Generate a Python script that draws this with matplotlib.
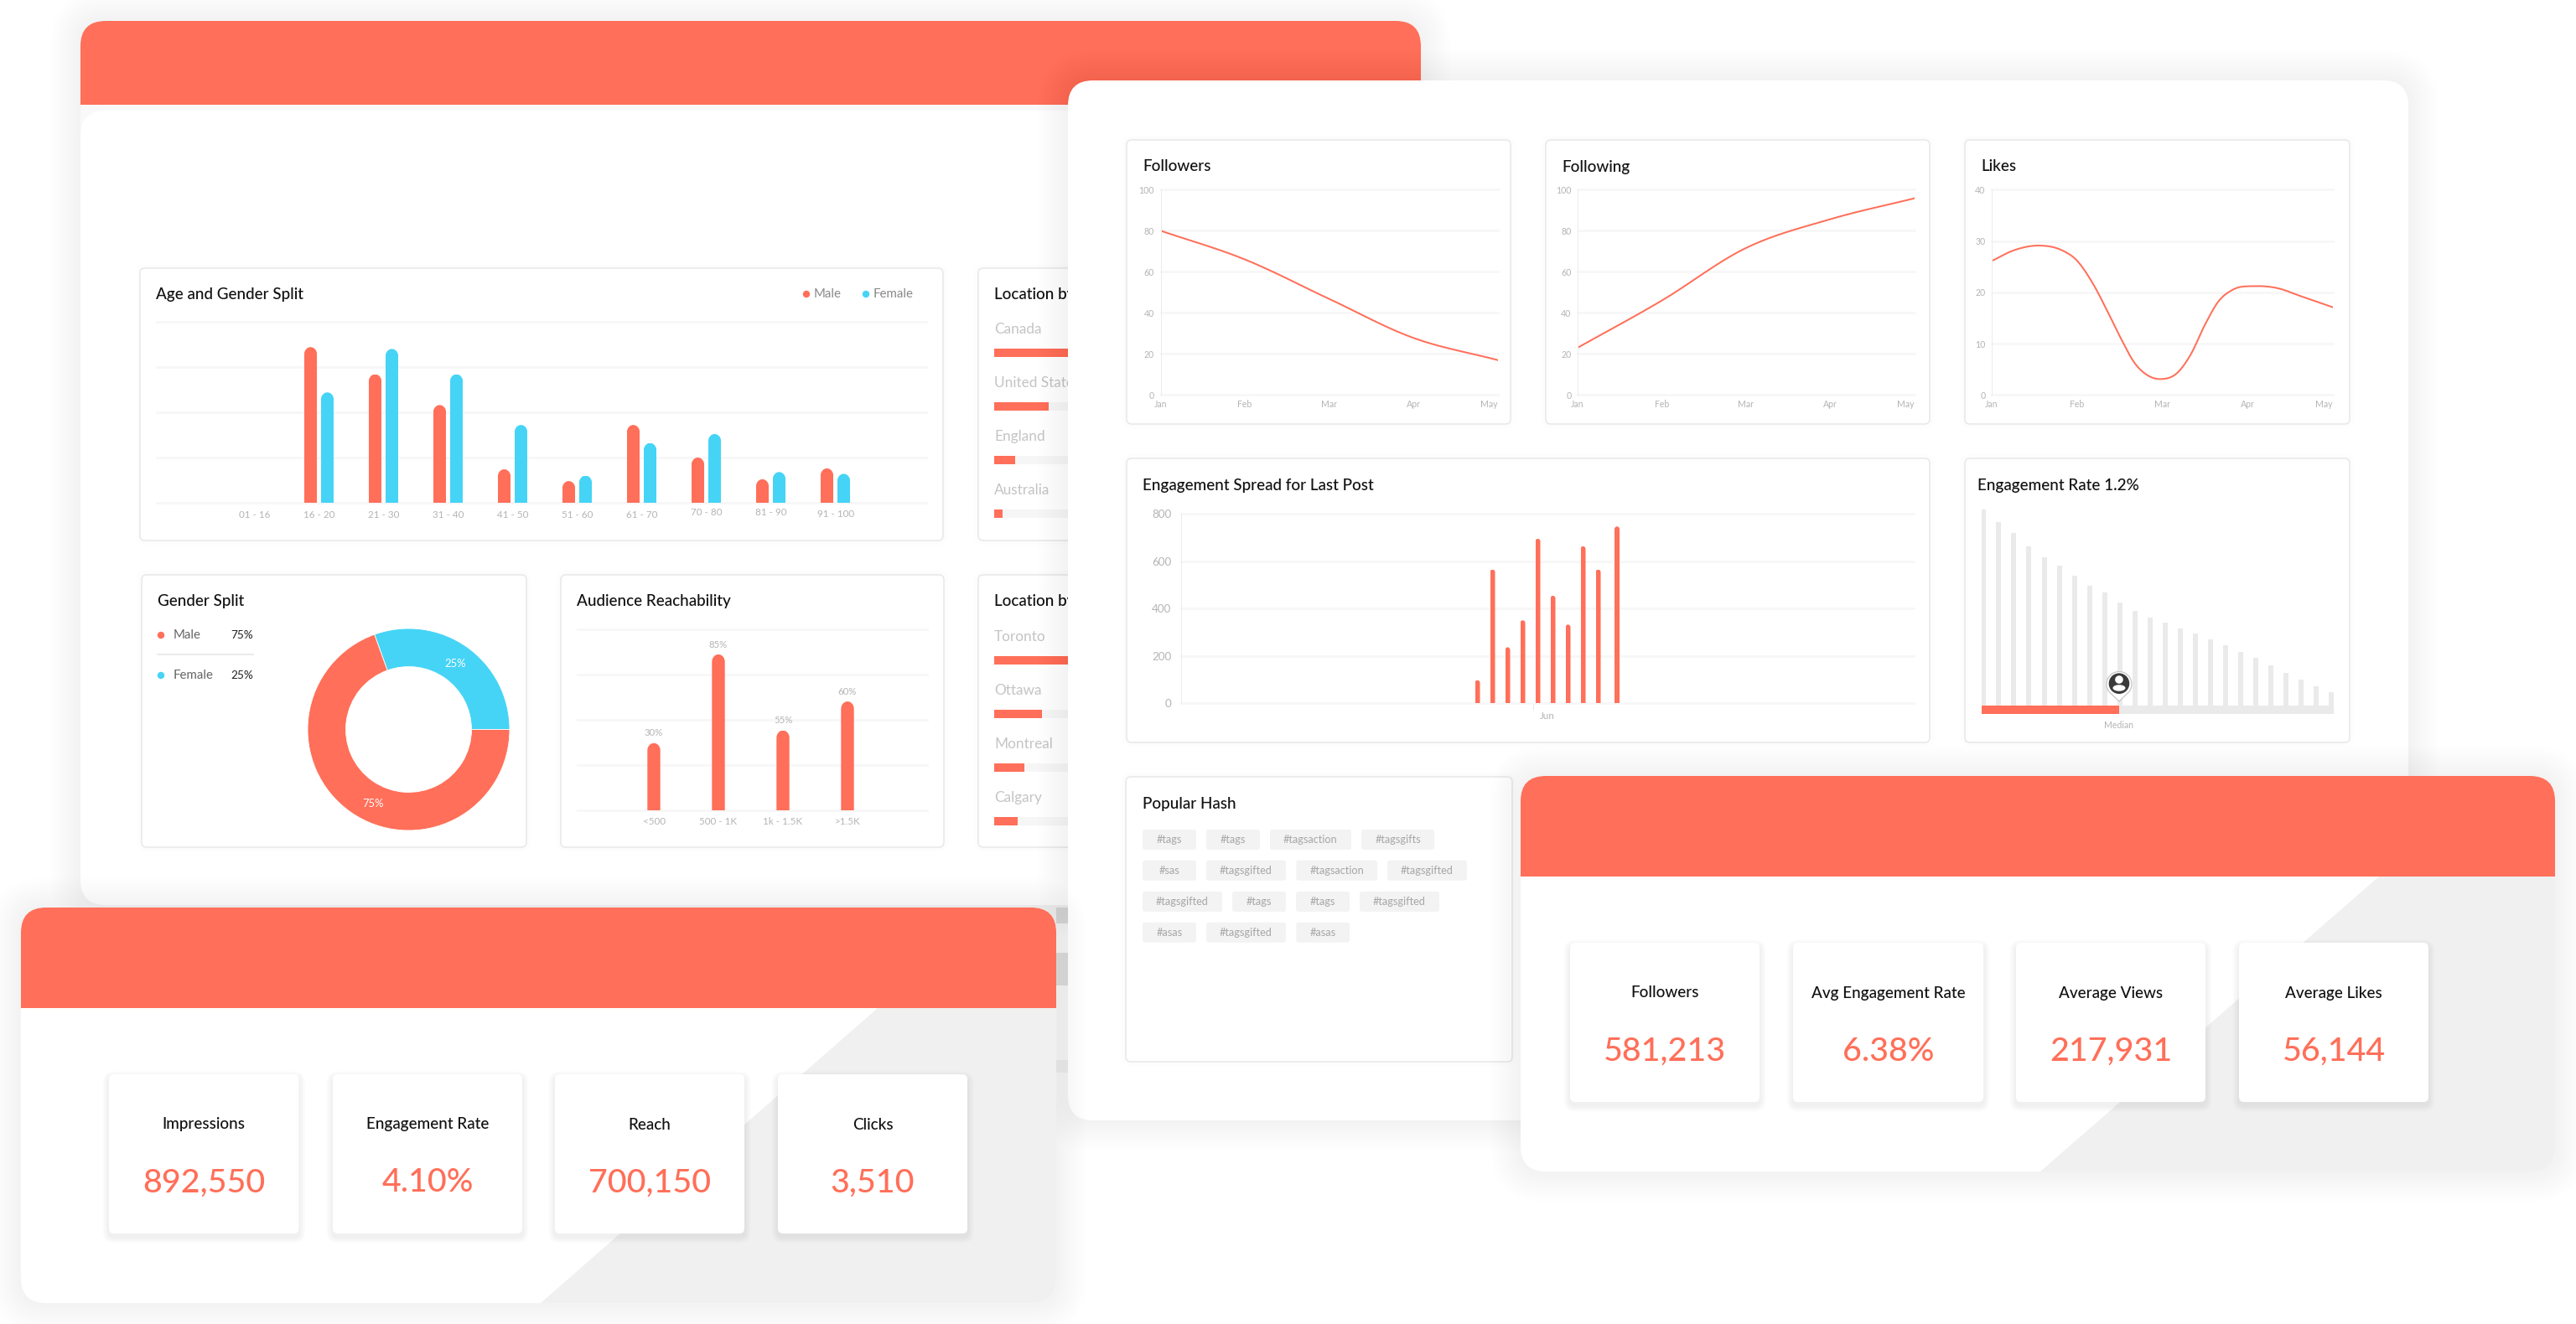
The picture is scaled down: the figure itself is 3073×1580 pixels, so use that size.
import numpy as np
import matplotlib
matplotlib.use("Agg")
import matplotlib.pyplot as plt
from matplotlib.patches import FancyBboxPatch, Rectangle, Polygon, Circle, Ellipse
from matplotlib.path import Path

# ---------- data ----------
age_groups = ["01 - 16", "16 - 20", "21 - 30", "31 - 40", "41 - 50", "51 - 60", "61 - 70", "70 - 80", "81 - 90", "91 - 100"]
male_share = [0, 86, 71, 54, 18.5, 12, 43, 25, 13, 19]
female_share = [0, 61, 85, 71, 43, 15, 33, 38, 17, 16]

donut_names = ["Female", "Male"]
donut_values = [30.5, 69.5]
donut_labels = ["25%", "75%"]

reach_groups = ["<500", "500 - 1K", "1k - 1.5K", ">1.5K"]
reach_values = [37, 86, 44, 60]
reach_labels = ["30%", "85%", "55%", "60%"]

countries = ["Canada", "United States", "England", "Australia"]
country_values = [32, 17, 6.5, 2.6]
cities = ["Toronto", "Ottawa", "Montreal", "Calgary"]
city_values = [30, 15, 9.5, 7.4]

months = ["Jan", "Feb", "Mar", "Apr", "May"]
followers_x = [0, 1, 2, 3, 4]
followers_y = [80, 66, 46.8, 27.8, 17]
following_x = [0, 1, 2, 3, 4]
following_y = [23, 46, 71.6, 85.6, 95.8]
likes_x = [0, .263, .559, .822, .987, 1.184, 1.349, 1.513, 1.678, 1.842, 2, 2.171, 2.336, 2.5, 2.664, 2.829, 3.092, 3.355, 3.618, 4]
likes_y = [26.1, 28.2, 29.1, 28.2, 26.4, 21.8, 16.6, 11.1, 6.2, 3.7, 3.1, 4.2, 7.9, 13.6, 18.3, 20.5, 21.2, 20.8, 19.3, 17.1]

spread_x = [0, 1, 2, 3, 4, 5, 6, 7, 8, 9.25]
spread_y = [97, 565, 236, 350, 695, 454, 332, 663, 565, 747]

rate_values = [100, 93.6, 88, 81.2, 75.6, 71.3, 66.1, 61, 57.6, 52.4, 48.1, 44.7,
               42.2, 39.2, 36.6, 33.6, 30.6, 27.2, 24.2, 20.4, 16.5, 13.1, 9.7, 6.7]
median_position = 8.96

hash_rows = [["#tags", "#tags", "#tagsaction", "#tagsgifts"],
             ["#sas", "#tagsgifted", "#tagsaction", "#tagsgifted"],
             ["#tagsgifted", "#tags", "#tags", "#tagsgifted"],
             ["#asas", "#tagsgifted", "#asas"]]

left_stats = ["Impressions", "Engagement Rate", "Reach", "Clicks"]
left_values = ["892,550", "4.10%", "700,150", "3,510"]
right_stats = ["Followers", "Avg Engagement Rate", "Average Views", "Average Likes"]
right_values = ["581,213", "6.38%", "217,931", "56,144"]

# ---------- style ----------
W, H = 3073, 1580
RED, BLUE = "#FF6F59", "#45D4F6"
GRID, EDGE, TICK = "#F7F7F7", "#E8E8E8", "#B4B4B4"
TRI = "#F0F0F0"
plt.rcParams["font.family"] = ["Lato", "DejaVu Sans"]
fig = plt.figure(figsize=(W / 100, H / 100), dpi=100, facecolor="white")
PX = 0.72


def layer(z):
    a = fig.add_axes([0, 0, 1, 1], zorder=z)
    a.set_xlim(0, W)
    a.set_ylim(H, 0)
    a.axis("off")
    a.patch.set_alpha(0)
    return a


def rbox(a, x0, y0, x1, y1, r, **kw):
    p = FancyBboxPatch((x0, y0), x1 - x0, y1 - y0,
                       boxstyle=f"round,pad=0,rounding_size={r}", **kw)
    a.add_patch(p)
    return p


def shadow(a, x0, y0, x1, y1, r, n=12, spread=3, alpha=0.0035, dy=0):
    for k in range(n, 0, -1):
        s = k * spread
        rbox(a, x0 - s, y0 - s + dy, x1 + s, y1 + s + dy, r + s, fc="black", ec="none", alpha=alpha)


def card(a, x0, y0, x1, y1):
    shadow(a, x0, y0, x1, y1, 6, n=3, spread=2, alpha=0.004)
    rbox(a, x0, y0, x1, y1, 6, fc="white", ec=EDGE, lw=1.5 * PX)


def chart_ax(x0, y0, x1, y1, z):
    a = fig.add_axes([x0 / W, 1 - y1 / H, (x1 - x0) / W, (y1 - y0) / H], zorder=z)
    a.patch.set_alpha(0)
    for s in a.spines.values():
        s.set_visible(False)
    a.tick_params(length=0, labelsize=8.4, labelcolor=TICK)
    return a


def hgrid(a):
    a.grid(axis="y", color=GRID, lw=3 * PX)
    a.set_axisbelow(True)
    for g in a.get_ygridlines():
        g.set_clip_on(False)


def round_bars(a, x, h, w, color):
    bars = a.bar(x, h, w, color=color, lw=0)
    ppx = a.get_window_extent().height / (a.get_ylim()[1] - a.get_ylim()[0])
    xpx = a.get_window_extent().width / (a.get_xlim()[1] - a.get_xlim()[0])
    cap = (w * xpx / 2) * 1.15 / ppx
    t = np.linspace(0, np.pi, 24)
    for b in bars:
        bx, bw, bh = b.get_x(), b.get_width(), b.get_height()
        if bh <= 0:
            continue
        top = min(cap, bh)
        xs = bx + bw / 2 + bw / 2 * np.cos(t)
        ys = bh - top + top * np.sin(t)
        verts = [(bx + bw, -1e3)] + list(zip(xs, ys)) + [(bx, -1e3), (bx + bw, -1e3)]
        b.set_clip_path(Path(verts, closed=True), a.transData)
    return bars


def smooth(x, y, n=24):
    x, y = np.asarray(x, float), np.asarray(y, float)
    m = np.gradient(y, x)
    xo, yo = [], []
    for i in range(len(x) - 1):
        d = x[i + 1] - x[i]
        t = np.linspace(0, 1, n, endpoint=False)
        yo.append((2 * t**3 - 3 * t**2 + 1) * y[i] + (t**3 - 2 * t**2 + t) * d * m[i]
                  + (-2 * t**3 + 3 * t**2) * y[i + 1] + (t**3 - t**2) * d * m[i + 1])
        xo.append(x[i] + t * d)
    return np.r_[np.concatenate(xo), x[-1]], np.r_[np.concatenate(yo), y[-1]]


TITLE = dict(fontsize=13.6, color="#111111", va="center", ha="left", fontweight="medium")

# ---------- panel A ----------
A = layer(1)
A.add_patch(Rectangle((1260, 1083), 16, 19, fc="#E6E6E6", ec="none"))
A.add_patch(Rectangle((1260, 1137), 16, 39, fc="#E6E6E6", ec="none"))
A.add_patch(Rectangle((1260, 1265), 16, 15, fc="#F5F5F5", ec="none"))
shadow(A, 96, 25, 1695, 1080, 30)
pa = rbox(A, 96, 25, 1695, 1080, 30, fc="#F9F9F9", ec="none")
ra = Rectangle((96, 25), 1600, 100, fc=RED, ec="none")
A.add_patch(ra)
ra.set_clip_path(pa)
rbox(A, 96, 132, 1695, 1080, 30, fc="white", ec="none")

card(A, 167, 320, 1125, 645)
card(A, 169, 686, 628, 1011)
card(A, 669, 686, 1126, 1011)
card(A, 1167, 320, 1625, 645)
card(A, 1167, 686, 1625, 1011)

A.text(186, 351, "Age and Gender Split", **TITLE)
A.text(188, 718, "Gender Split", **TITLE)
A.text(688, 718, "Audience Reachability", **TITLE)
A.text(1186, 351, "Location by Country", **TITLE)
A.text(1186, 718, "Location by City", **TITLE)

A.add_patch(Circle((962, 351), 4.2, fc=RED, ec="none"))
A.text(971, 351, "Male", fontsize=10.8, color="#8A8A8A", va="center")
A.add_patch(Circle((1033, 351), 4.2, fc=BLUE, ec="none"))
A.text(1042, 351, "Female", fontsize=10.8, color="#8A8A8A", va="center")

A.add_patch(Circle((192, 758), 4.2, fc=RED, ec="none"))
A.text(207, 758, "Male", fontsize=10.8, color="#666666", va="center")
A.text(302, 758, "75%", fontsize=9.8, color="#222222", va="center", ha="right")
A.plot([188, 302], [781, 781], color="#E4E4E4", lw=1.5 * PX)
A.add_patch(Circle((192, 806), 4.2, fc=BLUE, ec="none"))
A.text(207, 806, "Female", fontsize=10.8, color="#666666", va="center")
A.text(302, 806, "25%", fontsize=9.8, color="#222222", va="center", ha="right")

# age / gender bars
ax = chart_ax(187, 384, 1105, 600, 2)
ax.set_ylim(0, 100)
ax.set_xlim((187 - 304) / 77, (1105 - 304) / 77)
ax.set_yticks([0, 25, 50, 75, 100])
ax.set_yticklabels([])
idx = np.arange(len(age_groups))
hgrid(ax)
round_bars(ax, idx - 10.5 / 77, male_share, 15.3 / 77, RED)
round_bars(ax, idx + 9.5 / 77, female_share, 15.3 / 77, BLUE)
ax.set_xticks(idx)
ax.set_xticklabels(age_groups)
for t, p in zip(ax.xaxis.get_major_ticks(), [6.5, 6.5, 6.5, 6.5, 6.5, 6.5, 6.5, 4, 4, 5.5]):
    t.set_pad(p)

# donut
ax = chart_ax(367, 750, 608, 991, 2)
ax.pie(donut_values, colors=[BLUE, RED], startangle=0, radius=1,
       wedgeprops=dict(width=0.378, edgecolor="white", linewidth=0.6))
ax.set_xlim(-1, 1)
ax.set_ylim(-1, 1)
ax.text((543 - 487.5) / 120.5, (870.7 - 792) / 120.5, donut_labels[0], color="white", fontsize=9.4, ha="center", va="center")
ax.text((445 - 487.5) / 120.5, (870.7 - 959) / 120.5, donut_labels[1], color="white", fontsize=9.4, ha="center", va="center")

# audience
ax = chart_ax(688.5, 750.7, 1106, 966.7, 2)
ax.set_ylim(0, 100)
ax.set_xlim((688.5 - 780) / 77, (1106 - 780) / 77)
ax.set_yticks([0, 25, 50, 75, 100])
ax.set_yticklabels([])
hgrid(ax)
round_bars(ax, np.arange(4), reach_values, 15.4 / 77, RED)
ax.set_xticks(np.arange(4))
ax.set_xticklabels(reach_groups)
ax.tick_params(axis="x", pad=6)
for i, (v, s) in enumerate(zip(reach_values, reach_labels)):
    ax.annotate(s, (i, v), xytext=(0, 8.5), textcoords="offset points", ha="center", va="center",
                fontsize=8.2, color=TICK)


def location(names, vals, y_first):
    a = chart_ax(1186, y_first - 32, 1566, y_first + 224, 2)
    a.set_xlim(0, 100)
    a.set_ylim(3.5, -0.5)
    a.axis("off")
    pos = np.arange(4)
    a.barh(pos, [100] * 4, 0.156, color="#F6F6F6", lw=0)
    a.barh(pos, vals, 0.156, color=RED, lw=0)
    for i, n in enumerate(names):
        a.text(0, i - 0.44, n, fontsize=12.4, color="#C4C4C4", va="center", ha="left")


location(countries, country_values, 421)
location(cities, city_values, 788)

# ---------- panel B ----------
B = layer(3)
shadow(B, 1274, 96, 2873, 1337, 30)
rbox(B, 1274, 96, 2873, 1337, 30, fc="white", ec="none")
card(B, 1344, 167, 1802, 506)
card(B, 1844, 167, 2302, 506)
card(B, 2344, 167, 2803, 506)
card(B, 1344, 547, 2302, 886)
card(B, 2344, 547, 2803, 886)
card(B, 1343, 927, 1804, 1267)
B.text(1363.5, 199, "Followers", **TITLE)
B.text(1863, 199, "Following", **TITLE)
B.text(2363.5, 199, "Likes", **TITLE)
B.text(1363.5, 579, "Engagement Spread for Last Post", **TITLE)
B.text(2359.5, 579, "Engagement Rate 1.2%", **TITLE)
B.text(1363.5, 959, "Popular Hash", **TITLE)


def line_chart(x0, x1, xs, ys, ymax, step):
    a = chart_ax(x0, 226.3, x1, 471.3, 4)
    a.set_xlim(0, 4)
    a.set_ylim(0, ymax)
    a.set_yticks(np.arange(0, ymax + 1, step))
    hgrid(a)
    a.spines["left"].set_visible(True)
    a.spines["left"].set_color("#ECECEC")
    a.spines["left"].set_linewidth(PX)
    a.set_xticks(range(5))
    a.set_xticklabels(months)
    a.get_xticklabels()[-1].set_ha("right")
    a.tick_params(labelsize=7.6, axis="both")
    a.tick_params(axis="x", pad=4)
    a.tick_params(axis="y", pad=5.5)
    sx, sy = smooth(xs, ys)
    a.plot(sx, sy, color=RED, lw=2 * PX)


line_chart(1384.5, 1786.5, followers_x, followers_y, 100, 20)
line_chart(1882, 2284, following_x, following_y, 100, 20)
line_chart(2376, 2782.6, likes_x, likes_y, 40, 10)

# spread
ax = chart_ax(1408.5, 613.3, 2283, 839, 4)
ax.set_xlim((1408.5 - 1762.5) / 18, (2283 - 1762.5) / 18)
ax.set_ylim(0, 800)
ax.set_yticks(range(0, 801, 200))
hgrid(ax)
ax.spines["left"].set_visible(True)
ax.spines["left"].set_color("#ECECEC")
ax.spines["left"].set_linewidth(PX)
round_bars(ax, spread_x, spread_y, 6 / 18, RED)
ax.set_xticks([4.65])
ax.set_xticklabels(["Jun"])
ax.set_xticks([3.72], minor=True)
ax.tick_params(axis="x", which="minor", length=6, color="#E8E8E8", width=PX)
ax.tick_params(axis="y", labelsize=9.6, pad=8)
ax.tick_params(axis="x", which="major", labelsize=8.4, pad=7)

# engagement rate
ax = chart_ax(2363.5, 608, 2783.5, 852, 4)
xl = ((2363.5 - 2366.4) / 18.03, (2783.5 - 2366.4) / 18.03)
ax.set_xlim(*xl)
ax.set_ylim(-4.27, 100)
ax.set_yticks([])
ax.bar(np.arange(len(rate_values)), rate_values, 6 / 18.03, color="#EAEAEA", lw=0)
ax.barh(-2.135, xl[1] - xl[0], 4.27, left=xl[0], color="#EAEAEA", lw=0)
ax.barh(-2.135, median_position - xl[0], 4.27, left=xl[0], color=RED, lw=0)
ax.set_xticks([median_position])
ax.set_xticklabels(["Median"])
ax.tick_params(axis="x", labelsize=7.6, pad=6)

# median pin
cx = ax.transData.transform((median_position, 0))[0]
P = layer(4.5)
t = np.linspace(np.radians(-35), np.radians(215), 40)
pin_x = list(cx + 15 * np.cos(t)) + [cx]
pin_y = list(816.5 - 15 * np.sin(t)) + [837]
P.add_patch(Polygon(list(zip(pin_x, pin_y)), closed=True, fc="white", ec="#C4C4C4", lw=1.2 * PX))
P.add_patch(Circle((cx, 815.7), 12.3, fc="#3A3A3A", ec="none"))
P.add_patch(Circle((cx, 811), 4.8, fc="white", ec="none"))
P.add_patch(Ellipse((cx, 821), 15, 7.5, fc="white", ec="none"))

# hash chips
chip_x = [[(99, 291), (327, 519), (555, 846), (882, 1143)],
          [(99, 291), (327, 612), (649, 939), (975, 1260)],
          [(99, 384), (420, 612), (648, 840), (876, 1161)],
          [(99, 291), (327, 612), (649, 840)]]
chip_y = [990, 1026.7, 1064, 1100.7]
for row, xs, y in zip(hash_rows, chip_x, chip_y):
    for s, (a0, a1) in zip(row, xs):
        bx0, bx1 = 1330 + a0 / 3, 1330 + a1 / 3
        rbox(B, bx0, y, bx1, y + 24, 3, fc="#F3F3F3", ec="none")
        B.text((bx0 + bx1) / 2, y + 12, s, fontsize=9.2, color="#A6A6A6", ha="center", va="center")

# ---------- panels C, D ----------
T = layer(5)


def stat_panel(x0, y0, x1, y1, hdr, tri_top, tri_bot, cards, cy0, cy1, labels, values, ly, vy):
    shadow(T, x0, y0, x1, y1, 30)
    p = rbox(T, x0, y0, x1, y1, 30, fc="white", ec="none")
    h = Rectangle((x0, y0), x1 - x0, hdr - y0, fc=RED, ec="none")
    T.add_patch(h)
    h.set_clip_path(p)
    tri = Polygon([(tri_top, hdr), (x1, hdr), (x1, y1), (tri_bot, y1)], fc=TRI, ec="none")
    T.add_patch(tri)
    tri.set_clip_path(p)
    for (c0, c1), l, v in zip(cards, labels, values):
        shadow(T, c0, cy0, c1, cy1, 6, n=5, spread=1.5, alpha=0.012, dy=4)
        rbox(T, c0, cy0, c1, cy1, 6, fc="white", ec="none")
        T.text((c0 + c1) / 2, ly, l, fontsize=13.6, color="#111111", ha="center", va="center", fontweight="medium")
        T.text((c0 + c1) / 2, vy, v, fontsize=28.4, color=RED, ha="center", va="center", fontweight="medium")


stat_panel(25, 1083, 1260, 1555, 1203, 1047, 645,
           [(130, 356.5), (397, 623), (662, 888), (928, 1154)], 1282, 1472,
           left_stats, left_values, 1342, 1411.7)
stat_panel(1814, 926, 3048, 1398, 1046, 2838, 2434,
           [(1873, 2099), (2139, 2366), (2405, 2631), (2671, 2897)], 1125, 1315,
           right_stats, right_values, 1185, 1255)

fig.savefig("out.png", dpi=100, facecolor="white")
